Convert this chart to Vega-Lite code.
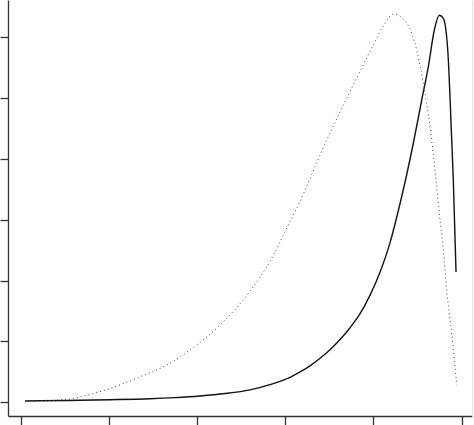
{
  "$schema": "https://vega.github.io/schema/vega-lite/v6.json",
  "description": "Two density-like curves, solid and dotted, in a lattice style box with unlabeled ticks.",
  "background": "white",
  "width": 464,
  "height": 416,
  "autosize": "none",
  "padding": {"left": 8, "top": 0, "right": 2, "bottom": 9},
  "datasets": {
    "curves": [
      {"series": "solid", "x": 0.051, "y": 0.021},
      {"series": "solid", "x": 0.527, "y": 0.03},
      {"series": "solid", "x": 1.015, "y": 0.042},
      {"series": "solid", "x": 1.468, "y": 0.058},
      {"series": "solid", "x": 1.752, "y": 0.077},
      {"series": "solid", "x": 2.035, "y": 0.104},
      {"series": "solid", "x": 2.319, "y": 0.144},
      {"series": "solid", "x": 2.602, "y": 0.205},
      {"series": "solid", "x": 2.829, "y": 0.29},
      {"series": "solid", "x": 3.056, "y": 0.41},
      {"series": "solid", "x": 3.169, "y": 0.498},
      {"series": "solid", "x": 3.282, "y": 0.598},
      {"series": "solid", "x": 3.396, "y": 0.722},
      {"series": "solid", "x": 3.509, "y": 0.863},
      {"series": "solid", "x": 3.623, "y": 1.03},
      {"series": "solid", "x": 3.736, "y": 1.225},
      {"series": "solid", "x": 3.85, "y": 1.455},
      {"series": "solid", "x": 3.963, "y": 1.76},
      {"series": "solid", "x": 4.077, "y": 2.14},
      {"series": "solid", "x": 4.189, "y": 2.617},
      {"series": "solid", "x": 4.28, "y": 3.125},
      {"series": "solid", "x": 4.36, "y": 3.617},
      {"series": "solid", "x": 4.461, "y": 4.307},
      {"series": "solid", "x": 4.549, "y": 4.964},
      {"series": "solid", "x": 4.624, "y": 5.511},
      {"series": "solid", "x": 4.692, "y": 6.113},
      {"series": "solid", "x": 4.748, "y": 6.355},
      {"series": "solid", "x": 4.794, "y": 6.305},
      {"series": "solid", "x": 4.844, "y": 5.785},
      {"series": "solid", "x": 4.889, "y": 4.307},
      {"series": "solid", "x": 4.907, "y": 3.65},
      {"series": "solid", "x": 4.938, "y": 2.14},
      {"series": "dotted", "x": 0.051, "y": 0.021},
      {"series": "dotted", "x": 0.448, "y": 0.038},
      {"series": "dotted", "x": 0.901, "y": 0.174},
      {"series": "dotted", "x": 1.355, "y": 0.42},
      {"series": "dotted", "x": 1.658, "y": 0.612},
      {"series": "dotted", "x": 1.922, "y": 0.859},
      {"series": "dotted", "x": 2.262, "y": 1.27},
      {"series": "dotted", "x": 2.602, "y": 1.823},
      {"series": "dotted", "x": 2.829, "y": 2.315},
      {"series": "dotted", "x": 3.056, "y": 2.972},
      {"series": "dotted", "x": 3.169, "y": 3.3},
      {"series": "dotted", "x": 3.396, "y": 4.061},
      {"series": "dotted", "x": 3.509, "y": 4.422},
      {"series": "dotted", "x": 3.623, "y": 4.767},
      {"series": "dotted", "x": 3.812, "y": 5.325},
      {"series": "dotted", "x": 4.0, "y": 5.867},
      {"series": "dotted", "x": 4.113, "y": 6.179},
      {"series": "dotted", "x": 4.227, "y": 6.376},
      {"series": "dotted", "x": 4.379, "y": 6.223},
      {"series": "dotted", "x": 4.492, "y": 5.785},
      {"series": "dotted", "x": 4.567, "y": 5.238},
      {"series": "dotted", "x": 4.643, "y": 4.525},
      {"series": "dotted", "x": 4.711, "y": 3.65},
      {"series": "dotted", "x": 4.756, "y": 2.993},
      {"series": "dotted", "x": 4.794, "y": 2.501},
      {"series": "dotted", "x": 4.832, "y": 1.844},
      {"series": "dotted", "x": 4.889, "y": 1.138},
      {"series": "dotted", "x": 4.926, "y": 0.585},
      {"series": "dotted", "x": 4.946, "y": 0.284}
    ]
  },
  "data": {"name": "curves"},
  "encoding": {
    "x": {
      "field": "x",
      "type": "quantitative",
      "scale": {"domain": [-0.142, 5.119], "nice": false, "zero": false},
      "axis": {"values": [0, 1, 2, 3, 4, 5], "tickSize": 9}
    }
  },
  "layer": [
    {
      "transform": [{"filter": "datum.series === 'solid'"}],
      "mark": {"type": "line", "interpolate": "monotone", "color": "#111", "strokeWidth": 1.4},
      "encoding": {
        "y": {
          "field": "y",
          "type": "quantitative",
          "scale": {"domain": [-0.225, 6.606], "nice": false, "zero": false},
          "axis": {"orient": "left", "values": [0, 1, 2, 3, 4, 5, 6], "tickSize": 8}
        }
      }
    },
    {
      "transform": [{"filter": "datum.series === 'dotted'"}],
      "mark": {"type": "line", "interpolate": "monotone", "color": "#444", "strokeWidth": 1, "strokeDash": [1, 3]},
      "encoding": {
        "y": {
          "field": "y",
          "type": "quantitative",
          "scale": {"domain": [-0.225, 6.606], "nice": false, "zero": false},
          "axis": {"orient": "right", "ticks": false, "domainColor": "#e4e4e4", "domainWidth": 1}
        }
      }
    }
  ],
  "resolve": {"scale": {"y": "independent"}, "axis": {"y": "independent"}},
  "config": {
    "view": {"stroke": null},
    "axis": {
      "grid": false,
      "labels": false,
      "title": null,
      "domainColor": "#333",
      "tickColor": "#333",
      "domainWidth": 1.3,
      "tickWidth": 1.3
    }
  }
}
